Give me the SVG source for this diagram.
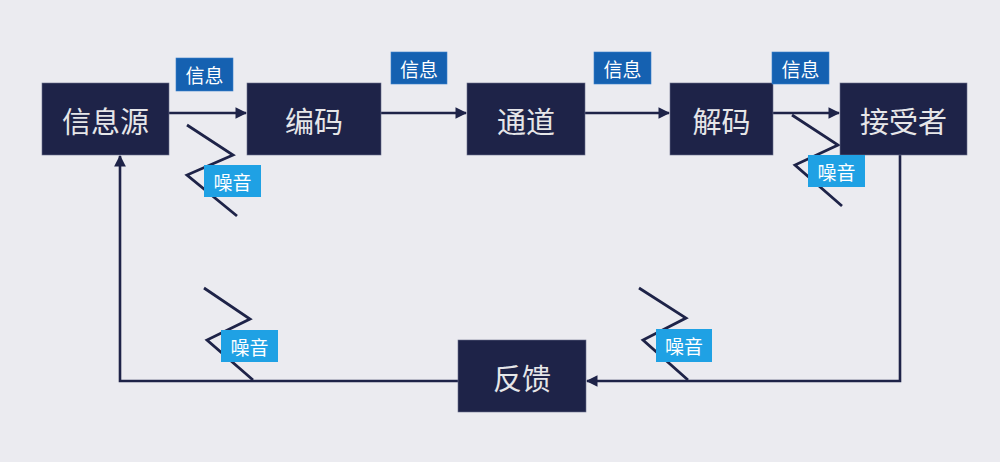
<svg xmlns="http://www.w3.org/2000/svg" width="1000" height="462" viewBox="0 0 1000 462">
<style>
.node rect{fill:#1e2348;stroke:#6a6f8c;stroke-width:0.6}
.node text{fill:#e6e6e8;font-family:"Noto Sans CJK SC","Noto Sans",sans-serif;font-size:29px;text-anchor:middle;dominant-baseline:central}
.info rect{fill:#1561b1;stroke:#3b7fcb;stroke-width:0.6}
.noise rect{fill:#1fa1e4}
.lbl text{fill:#ffffff;font-family:"Noto Sans CJK SC","Noto Sans",sans-serif;font-size:19px;text-anchor:middle;dominant-baseline:central}
.edge{fill:none;stroke:#1e2348;stroke-width:2.6}
.zig{fill:none;stroke:#1e2348;stroke-width:2.8;stroke-linejoin:miter}
</style>
<defs>
<marker id="arr" viewBox="0 0 10 10" refX="9" refY="5" markerWidth="4.5" markerHeight="4.5" orient="auto" markerUnits="strokeWidth">
<path d="M0,0 L10,5 L0,10 z" fill="#1e2348"/>
</marker>
</defs>
<rect width="1000" height="462" fill="#ebebf0"/>
<g id="connectors">
<line class="edge" x1="169" y1="113" x2="246" y2="113" marker-end="url(#arr)"/>
<line class="edge" x1="381" y1="113" x2="466" y2="113" marker-end="url(#arr)"/>
<line class="edge" x1="585" y1="113" x2="669" y2="113" marker-end="url(#arr)"/>
<line class="edge" x1="773" y1="113" x2="839" y2="113" marker-end="url(#arr)"/>
<polyline class="edge" points="900,155 900,381 587,381" marker-end="url(#arr)"/>
<polyline class="edge" points="458,381 120,381 120,156" marker-end="url(#arr)"/>
</g>
<g id="noise-lines">
<polyline class="zig" points="187,125 233,155 187,175 237,216"/>
<polyline class="zig" points="792,115 838,145 795,165 842,206"/>
<polyline class="zig" points="204,288 250,319 207,340 253,380"/>
<polyline class="zig" points="639,288 686,318 643,340 688,380"/>
</g>
<g id="node-source" class="node"><rect x="42" y="83" width="127" height="72"/><text x="105.5" y="120">信息源</text></g>
<g id="node-encode" class="node"><rect x="247" y="83" width="134" height="72"/><text x="314" y="120">编码</text></g>
<g id="node-channel" class="node"><rect x="467" y="83" width="118" height="72"/><text x="526" y="120">通道</text></g>
<g id="node-decode" class="node"><rect x="670" y="83" width="103" height="72"/><text x="721.5" y="120">解码</text></g>
<g id="node-receiver" class="node"><rect x="840" y="83" width="127" height="72"/><text x="903.5" y="120">接受者</text></g>
<g id="node-feedback" class="node"><rect x="458" y="340" width="128" height="72"/><text x="522" y="377">反馈</text></g>
<g id="label-info-1" class="lbl info"><rect x="176" y="58" width="57" height="33"/><text x="204.5" y="74.5">信息</text></g>
<g id="label-info-2" class="lbl info"><rect x="391" y="52" width="56" height="32"/><text x="419" y="68">信息</text></g>
<g id="label-info-3" class="lbl info"><rect x="594" y="52" width="57" height="32"/><text x="622.5" y="68">信息</text></g>
<g id="label-info-4" class="lbl info"><rect x="772" y="52" width="57" height="32"/><text x="800.5" y="68">信息</text></g>
<g id="label-noise-1" class="lbl noise"><rect x="204" y="165" width="57" height="32"/><text x="232.5" y="181">噪音</text></g>
<g id="label-noise-2" class="lbl noise"><rect x="808" y="155" width="57" height="32"/><text x="836.5" y="171">噪音</text></g>
<g id="label-noise-3" class="lbl noise"><rect x="221" y="330" width="57" height="32"/><text x="249.5" y="346">噪音</text></g>
<g id="label-noise-4" class="lbl noise"><rect x="656" y="329" width="56" height="33"/><text x="684" y="345.5">噪音</text></g>
</svg>
